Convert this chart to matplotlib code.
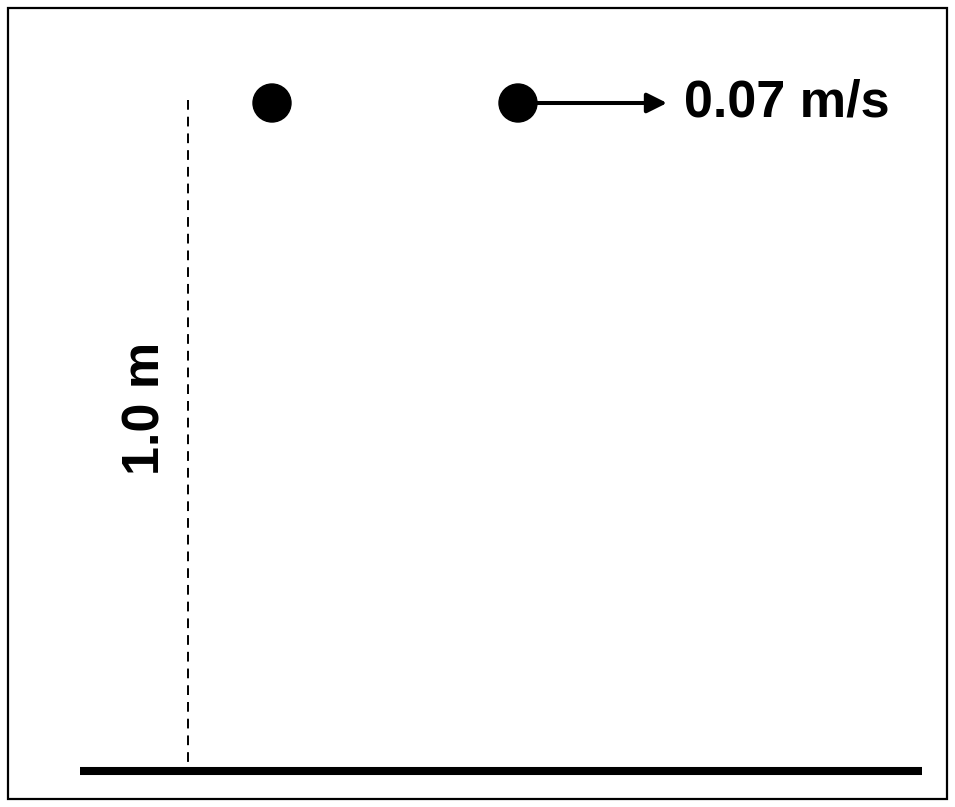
import matplotlib
matplotlib.use("Agg")
import matplotlib.pyplot as plt
from matplotlib.patches import Circle, Rectangle

# scene values (pixel coordinates of the 955x807 picture)
ball_x = [272, 518]
ball_y = [103, 103]
ball_r = 19
arrow_start = (518, 103)
arrow_end = (667, 103)
speed_label = "0.07 m/s"
height_label = "1.0 m"
drop_x = [188, 188]
drop_y = [100, 762]
ground_x = [80, 922]
ground_y = [771, 771]

plt.rcParams["font.family"] = ["Liberation Sans", "DejaVu Sans"]

fig = plt.figure(figsize=(9.55, 8.07), dpi=100)
ax = fig.add_axes([0, 0, 1, 1])
ax.set_xlim(0, 955)
ax.set_ylim(807, 0)
ax.axis("off")

# outer frame
ax.add_patch(Rectangle((8, 8), 939, 791, fill=False, lw=1.6, ec="black"))

# ground
ax.plot(ground_x, ground_y, color="black", lw=5.8, solid_capstyle="butt")

# height marker
ax.plot(drop_x, drop_y, color="black", lw=1.4, linestyle=(0, (5.0, 3.6)))
ax.text(146, 408, height_label, rotation=90, ha="center", va="center",
        fontsize=37.5, fontweight="bold")

# balls
for x, y in zip(ball_x, ball_y):
    ax.add_patch(Circle((x, y), ball_r, color="black", zorder=3))

# velocity arrow
ax.annotate("", xy=arrow_end, xytext=arrow_start,
            arrowprops=dict(arrowstyle="-|>", color="black", lw=2.9,
                            mutation_scale=30, shrinkA=0, shrinkB=0))
ax.text(684, 103, speed_label, ha="left", va="center",
        fontsize=37.5, fontweight="bold")

fig.savefig("out.png", dpi=100)
